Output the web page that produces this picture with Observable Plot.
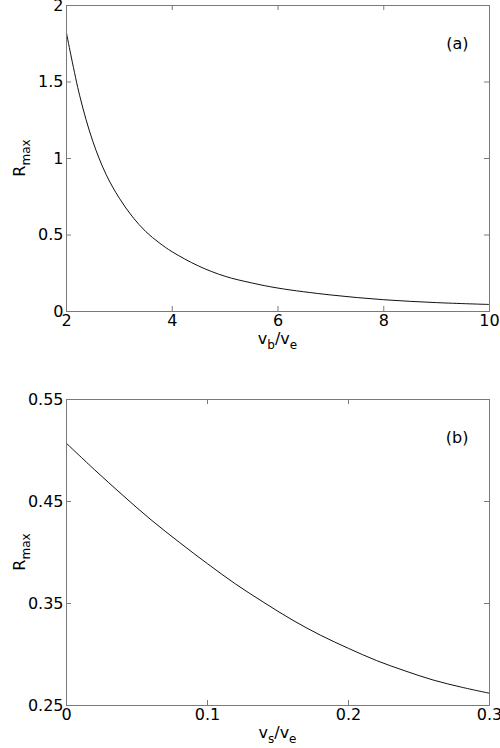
<!DOCTYPE html>
<html>
<head>
<meta charset="utf-8">
<script src="https://cdn.jsdelivr.net/npm/d3@7"></script>
<script src="https://cdn.jsdelivr.net/npm/@observablehq/plot@0.6"></script>
<style>
  body { margin: 0; background: #fff; font-family: "DejaVu Sans", Arial, sans-serif; }
  #chart svg { display: block; }
</style>
</head>
<body>
<div id="chart"></div>
<script>
/*
 * Two stacked panels of R_max: (a) against v_b/v_e, (b) against v_s/v_e.
 * MATLAB-style boxed axes with inward ticks on all four sides.
 */

// panel (a): R_max vs v_b/v_e
const vbRatio = [2, 2.25, 2.5, 2.75, 3, 3.25, 3.5, 3.75, 4, 4.5, 5, 5.5, 6, 7, 8, 9, 10];
const rmaxA = [1.82, 1.41, 1.11, 0.895, 0.74, 0.618, 0.522, 0.45, 0.39, 0.297, 0.23, 0.187, 0.153, 0.108, 0.077, 0.058, 0.046];
const ticksAx = [2, 4, 6, 8, 10];
const ticksAy = [0, 0.5, 1, 1.5, 2];

// panel (b): R_max vs v_s/v_e
const vsRatio = [0, 0.02, 0.04, 0.06, 0.08, 0.1, 0.12, 0.14, 0.16, 0.18, 0.2, 0.22, 0.24, 0.26, 0.28, 0.3];
const rmaxB = [0.507, 0.481, 0.456, 0.432, 0.410, 0.389, 0.369, 0.351, 0.334, 0.319, 0.306, 0.294, 0.284, 0.275, 0.268, 0.262];
const ticksBx = [0, 0.1, 0.2, 0.3];
const ticksBy = [0.25, 0.35, 0.45, 0.55];

const AXIS_GRAY = "#7a7a7a";
const FONT = "'DejaVu Sans', Arial, sans-serif";

function panel({ xs, ys, xTicks, yTicks, tag, xSub, height, marginTop, marginBottom }) {
  const width = 500, marginLeft = 66, marginRight = 11;
  const innerH = height - marginTop - marginBottom;
  const innerW = width - marginLeft - marginRight;
  const data = xs.map((x, i) => ({ x, y: ys[i] }));
  const fmt = (d) => String(d);

  const plot = Plot.plot({
    width, height, marginLeft, marginRight, marginTop, marginBottom,
    style: { fontFamily: FONT, fontSize: "16px", color: "#000", background: "#fff", overflow: "visible" },
    x: { domain: d3.extent(xTicks), label: null },
    y: { domain: d3.extent(yTicks), label: null },
    marks: [
      Plot.line(data, { x: "x", y: "y", stroke: "#111", strokeWidth: 1, curve: "catmull-rom" }),
      // inward ticks, all four sides
      Plot.tickX(xTicks, { x: (d) => d, stroke: AXIS_GRAY, insetTop: innerH - 5 }),
      Plot.tickX(xTicks, { x: (d) => d, stroke: AXIS_GRAY, insetBottom: innerH - 5 }),
      Plot.tickY(yTicks, { y: (d) => d, stroke: AXIS_GRAY, insetRight: innerW - 5 }),
      Plot.tickY(yTicks, { y: (d) => d, stroke: AXIS_GRAY, insetLeft: innerW - 5 }),
      Plot.frame({ stroke: AXIS_GRAY }),
      Plot.axisX(xTicks, { tickSize: 0, tickPadding: 3, tickFormat: fmt, fontSize: 16 }),
      Plot.axisY(yTicks, { tickSize: 0, tickPadding: 3, tickFormat: fmt, fontSize: 16 }),
      Plot.text([tag], { frameAnchor: "top-right", dx: -21, dy: 32, textAnchor: "end", fontSize: 16 }),
    ],
  });

  // axis titles with subscripts
  const sx = plot.scale("x"), sy = plot.scale("y");
  const svg = d3.select(plot);
  const cx = (sx.range[0] + sx.range[1]) / 2;
  const xl = svg.append("text")
    .attr("x", cx).attr("y", height - marginBottom + 33)
    .attr("text-anchor", "middle").attr("font-size", 16).attr("fill", "#000");
  xl.append("tspan").text("v");
  xl.append("tspan").attr("dy", 5).attr("font-size", 12).text(xSub);
  xl.append("tspan").attr("dy", -5).text("/v");
  xl.append("tspan").attr("dy", 5).attr("font-size", 12).text("e");

  const cy = (sy.range[0] + sy.range[1]) / 2;
  const yl = svg.append("text")
    .attr("transform", `translate(25,${cy}) rotate(-90)`)
    .attr("text-anchor", "middle").attr("font-size", 16).attr("fill", "#000");
  yl.append("tspan").text("R");
  yl.append("tspan").attr("dy", 5).attr("font-size", 12).text("max");

  return plot;
}

const container = document.getElementById("chart");
container.appendChild(panel({
  xs: vbRatio, ys: rmaxA, xTicks: ticksAx, yTicks: ticksAy,
  tag: "(a)", xSub: "b", height: 355, marginTop: 5, marginBottom: 44,
}));
container.appendChild(panel({
  xs: vsRatio, ys: rmaxB, xTicks: ticksBx, yTicks: ticksBy,
  tag: "(b)", xSub: "s", height: 393, marginTop: 44, marginBottom: 43,
}));
</script>
</body>
</html>
